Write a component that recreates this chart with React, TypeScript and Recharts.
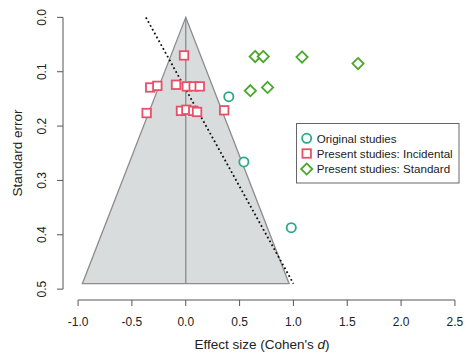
import React from 'react';
import { ComposedChart, Scatter, XAxis, YAxis, ReferenceLine, Legend } from 'recharts';

const xTicks = [-1, -0.5, 0, 0.5, 1, 1.5, 2, 2.5];
const yTicks = [0, 0.1, 0.2, 0.3, 0.4, 0.5];

const funnelData = [
  { x: 0, y: 0 },
  { x: -0.96, y: 0.49 },
  { x: 0.96, y: 0.49 },
];
const centerLine = [
  { x: 0, y: 0 },
  { x: 0, y: 0.49 },
];
const regressionLine = [
  { x: -0.37, y: 0 },
  { x: 1.0, y: 0.49 },
];

const original = [
  { x: 0.4, y: 0.146 },
  { x: 0.54, y: 0.266 },
  { x: 0.98, y: 0.387 },
];
const incidental = [
  { x: -0.016, y: 0.07 },
  { x: -0.33, y: 0.129 },
  { x: -0.264, y: 0.126 },
  { x: -0.09, y: 0.124 },
  { x: 0.01, y: 0.127 },
  { x: 0.074, y: 0.127 },
  { x: 0.13, y: 0.127 },
  { x: -0.363, y: 0.176 },
  { x: -0.044, y: 0.172 },
  { x: 0.006, y: 0.17 },
  { x: 0.07, y: 0.172 },
  { x: 0.105, y: 0.174 },
  { x: 0.357, y: 0.171 },
];
const standard = [
  { x: 0.645, y: 0.072 },
  { x: 0.72, y: 0.072 },
  { x: 1.08, y: 0.073 },
  { x: 1.6, y: 0.085 },
  { x: 0.6, y: 0.135 },
  { x: 0.76, y: 0.129 },
];

const legendLabels = ['Original studies', 'Present studies: Incidental', 'Present studies: Standard'];

const TEAL = '#2aa88a';
const RED = '#e8506a';
const GREEN = '#4aa82c';
const AXIS = '#555';
const FONT = '"Liberation Sans", Arial, sans-serif';

const Square = (props: any) => {
  const { cx, cy } = props;
  if (cx == null || cy == null) return <g />;
  const s = 8.5;
  return <rect x={cx - s / 2} y={cy - s / 2} width={s} height={s} fill="#fff" stroke={RED} strokeWidth={1.8} />;
};
const Circ = (props: any) => {
  const { cx, cy } = props;
  if (cx == null || cy == null) return <g />;
  return <circle cx={cx} cy={cy} r={4.6} fill="#fff" stroke={TEAL} strokeWidth={1.8} />;
};
const Diamond = (props: any) => {
  const { cx, cy } = props;
  if (cx == null || cy == null) return <g />;
  const r = 5.6;
  return (
    <polygon
      points={`${cx},${cy - r} ${cx + r},${cy} ${cx},${cy + r} ${cx - r},${cy}`}
      fill="#fff"
      stroke={GREEN}
      strokeWidth={1.8}
    />
  );
};
const NoShape = () => <g />;

const FunnelPoly = (props: any) => {
  const pts = (props.points || []).map((p: any) => `${p.x},${p.y}`).join(' ');
  return <polygon points={pts} fill="#d8dcdc" stroke="#8c8c8c" strokeWidth={1.3} />;
};

const XTick = (props: any) => {
  const { x, payload } = props;
  return (
    <text x={x} y={325.5} textAnchor="middle" fontSize={12} fill="#222" fontFamily={FONT}>
      {Number(payload.value).toFixed(1)}
    </text>
  );
};
const YTick = (props: any) => {
  const { y, payload } = props;
  return (
    <text
      x={46.5}
      y={y}
      textAnchor="middle"
      fontSize={12}
      fill="#222"
      fontFamily={FONT}
      transform={`rotate(-90, 46.5, ${y})`}
    >
      {Number(payload.value).toFixed(1)}
    </text>
  );
};

const XTitle = () => (
  <text x={262} y={349} textAnchor="middle" fontSize={13.5} fill="#222" fontFamily={FONT}>
    Effect size (Cohen's <tspan fontStyle="italic">d</tspan>)
  </text>
);
const YTitle = () => (
  <text
    x={21.5}
    y={153}
    textAnchor="middle"
    fontSize={13.5}
    fill="#222"
    fontFamily={FONT}
    transform="rotate(-90, 21.5, 153)"
  >
    Standard error
  </text>
);

const LegendBox = () => {
  const rows = [15.3, 30.5, 46];
  const ix = 10.7;
  return (
    <svg width={164} height={61} style={{ display: 'block' }}>
      <rect x={0.5} y={0.5} width={162.5} height={59.5} fill="#fff" stroke="#666" strokeWidth={1} />
      <circle cx={ix} cy={rows[0]} r={4.6} fill="#fff" stroke={TEAL} strokeWidth={1.8} />
      <rect x={ix - 4.25} y={rows[1] - 4.25} width={8.5} height={8.5} fill="#fff" stroke={RED} strokeWidth={1.8} />
      <polygon
        points={`${ix},${rows[2] - 5.6} ${ix + 5.6},${rows[2]} ${ix},${rows[2] + 5.6} ${ix - 5.6},${rows[2]}`}
        fill="#fff"
        stroke={GREEN}
        strokeWidth={1.8}
      />
      {legendLabels.map((l, i) => (
        <text key={l} x={20.7} y={rows[i] + 4.2} fontSize={11.6} fill="#222" fontFamily={FONT}>
          {l}
        </text>
      ))}
    </svg>
  );
};

export default function App() {
  return (
    <div style={{ position: 'absolute', left: 0, top: 0, width: 474, height: 360, background: '#fff' }}>
      <ComposedChart width={474} height={360} margin={{ top: 6.5, right: 4, left: 0, bottom: 0 }}>
        <XAxis
          type="number"
          dataKey="x"
          domain={[-1.14, 2.64]}
          allowDataOverflow
          ticks={xTicks}
          interval={0}
          axisLine={false}
          tickLine={{ stroke: AXIS }}
          tickSize={6}
          tick={<XTick />}
          height={60}
          label={<XTitle />}
        />
        <YAxis
          type="number"
          dataKey="y"
          domain={[-0.02, 0.52]}
          allowDataOverflow
          reversed
          ticks={yTicks}
          interval={0}
          axisLine={false}
          tickLine={{ stroke: AXIS }}
          tickSize={6}
          tick={<YTick />}
          width={63}
          label={<YTitle />}
        />
        <ReferenceLine
          segment={[{ x: -1, y: 0.52 }, { x: 2.5, y: 0.52 }]}
          stroke={AXIS}
          strokeWidth={1}
          ifOverflow="visible"
        />
        <ReferenceLine
          segment={[{ x: -1.14, y: 0 }, { x: -1.14, y: 0.5 }]}
          stroke={AXIS}
          strokeWidth={1}
          ifOverflow="visible"
        />
        <Scatter data={funnelData} line={FunnelPoly} shape={NoShape} isAnimationActive={false} />
        <Scatter
          data={centerLine}
          line={{ stroke: '#8c8c8c', strokeWidth: 1.3 }}
          shape={NoShape}
          isAnimationActive={false}
        />
        <Scatter
          data={regressionLine}
          line={{ stroke: '#111', strokeWidth: 1.8, strokeDasharray: '1.8 2.6' }}
          shape={NoShape}
          isAnimationActive={false}
        />
        <Scatter data={original} shape={Circ} isAnimationActive={false} name={legendLabels[0]} />
        <Scatter data={incidental} shape={Square} isAnimationActive={false} name={legendLabels[1]} />
        <Scatter data={standard} shape={Diamond} isAnimationActive={false} name={legendLabels[2]} />
        <Legend
          layout="vertical"
          align="center"
          verticalAlign="middle"
          content={<LegendBox />}
          wrapperStyle={{ position: 'absolute', left: 296, top: 123, width: 164, height: 61 }}
        />
      </ComposedChart>
    </div>
  );
}
